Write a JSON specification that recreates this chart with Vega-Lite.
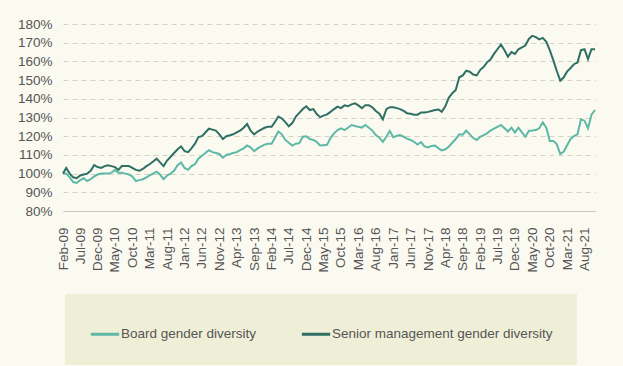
{
  "$schema": "https://vega.github.io/schema/vega-lite/v6.json",
  "width": 532,
  "height": 187,
  "autosize": {"type": "none"},
  "padding": {"left": 63, "top": 24, "right": 28, "bottom": 155},
  "background": "#FBFAF1",
  "config": {
    "view": {"stroke": null},
    "font": "Liberation Sans",
    "axis": {"labelFont": "Liberation Sans", "labelFontSize": 13.5, "labelColor": "#555555", "title": null},
    "legend": {"labelFont": "Liberation Sans"}
  },
  "data": {
    "values": [
      {"date":"2009-02-01","Board gender diversity":100,"Senior management gender diversity":100},
      {"date":"2009-03-01","Board gender diversity":100,"Senior management gender diversity":103},
      {"date":"2009-04-01","Board gender diversity":98,"Senior management gender diversity":100},
      {"date":"2009-05-01","Board gender diversity":95.5,"Senior management gender diversity":98},
      {"date":"2009-06-01","Board gender diversity":95,"Senior management gender diversity":97.5},
      {"date":"2009-07-01","Board gender diversity":96.5,"Senior management gender diversity":99},
      {"date":"2009-08-01","Board gender diversity":97.5,"Senior management gender diversity":99.5},
      {"date":"2009-09-01","Board gender diversity":96,"Senior management gender diversity":100},
      {"date":"2009-10-01","Board gender diversity":97,"Senior management gender diversity":101.5},
      {"date":"2009-11-01","Board gender diversity":98.5,"Senior management gender diversity":104.5},
      {"date":"2009-12-01","Board gender diversity":99.5,"Senior management gender diversity":103.5},
      {"date":"2010-01-01","Board gender diversity":100,"Senior management gender diversity":103},
      {"date":"2010-02-01","Board gender diversity":100,"Senior management gender diversity":104},
      {"date":"2010-03-01","Board gender diversity":100,"Senior management gender diversity":104.5},
      {"date":"2010-04-01","Board gender diversity":100.5,"Senior management gender diversity":104},
      {"date":"2010-05-01","Board gender diversity":102,"Senior management gender diversity":103.5},
      {"date":"2010-06-01","Board gender diversity":100.5,"Senior management gender diversity":102},
      {"date":"2010-07-01","Board gender diversity":100.5,"Senior management gender diversity":104},
      {"date":"2010-08-01","Board gender diversity":100,"Senior management gender diversity":104},
      {"date":"2010-09-01","Board gender diversity":99.5,"Senior management gender diversity":104},
      {"date":"2010-10-01","Board gender diversity":98.5,"Senior management gender diversity":103},
      {"date":"2010-11-01","Board gender diversity":96,"Senior management gender diversity":102},
      {"date":"2010-12-01","Board gender diversity":96.5,"Senior management gender diversity":101.5},
      {"date":"2011-01-01","Board gender diversity":97,"Senior management gender diversity":102.5},
      {"date":"2011-02-01","Board gender diversity":98,"Senior management gender diversity":104},
      {"date":"2011-03-01","Board gender diversity":99,"Senior management gender diversity":105},
      {"date":"2011-04-01","Board gender diversity":100,"Senior management gender diversity":106.5},
      {"date":"2011-05-01","Board gender diversity":101,"Senior management gender diversity":108},
      {"date":"2011-06-01","Board gender diversity":99.5,"Senior management gender diversity":106},
      {"date":"2011-07-01","Board gender diversity":97,"Senior management gender diversity":104},
      {"date":"2011-08-01","Board gender diversity":99,"Senior management gender diversity":107},
      {"date":"2011-09-01","Board gender diversity":100,"Senior management gender diversity":109},
      {"date":"2011-10-01","Board gender diversity":101.5,"Senior management gender diversity":111},
      {"date":"2011-11-01","Board gender diversity":104.5,"Senior management gender diversity":113},
      {"date":"2011-12-01","Board gender diversity":106,"Senior management gender diversity":114.5},
      {"date":"2012-01-01","Board gender diversity":103,"Senior management gender diversity":112},
      {"date":"2012-02-01","Board gender diversity":102,"Senior management gender diversity":111.5},
      {"date":"2012-03-01","Board gender diversity":104,"Senior management gender diversity":113.5},
      {"date":"2012-04-01","Board gender diversity":105,"Senior management gender diversity":116},
      {"date":"2012-05-01","Board gender diversity":108,"Senior management gender diversity":119.5},
      {"date":"2012-06-01","Board gender diversity":109.5,"Senior management gender diversity":120},
      {"date":"2012-07-01","Board gender diversity":111,"Senior management gender diversity":122},
      {"date":"2012-08-01","Board gender diversity":112.5,"Senior management gender diversity":124},
      {"date":"2012-09-01","Board gender diversity":111.5,"Senior management gender diversity":123.5},
      {"date":"2012-10-01","Board gender diversity":111,"Senior management gender diversity":123},
      {"date":"2012-11-01","Board gender diversity":110.5,"Senior management gender diversity":121},
      {"date":"2012-12-01","Board gender diversity":108.5,"Senior management gender diversity":118.5},
      {"date":"2013-01-01","Board gender diversity":110,"Senior management gender diversity":120},
      {"date":"2013-02-01","Board gender diversity":110.5,"Senior management gender diversity":120.5},
      {"date":"2013-03-01","Board gender diversity":111,"Senior management gender diversity":121},
      {"date":"2013-04-01","Board gender diversity":111.5,"Senior management gender diversity":122},
      {"date":"2013-05-01","Board gender diversity":112.5,"Senior management gender diversity":123},
      {"date":"2013-06-01","Board gender diversity":113.5,"Senior management gender diversity":124.5},
      {"date":"2013-07-01","Board gender diversity":115,"Senior management gender diversity":126.5},
      {"date":"2013-08-01","Board gender diversity":114,"Senior management gender diversity":123},
      {"date":"2013-09-01","Board gender diversity":112,"Senior management gender diversity":121},
      {"date":"2013-10-01","Board gender diversity":113.5,"Senior management gender diversity":122.5},
      {"date":"2013-11-01","Board gender diversity":114.5,"Senior management gender diversity":123.5},
      {"date":"2013-12-01","Board gender diversity":115.5,"Senior management gender diversity":124.5},
      {"date":"2014-01-01","Board gender diversity":116,"Senior management gender diversity":125},
      {"date":"2014-02-01","Board gender diversity":116,"Senior management gender diversity":125},
      {"date":"2014-03-01","Board gender diversity":119,"Senior management gender diversity":127.5},
      {"date":"2014-04-01","Board gender diversity":122.5,"Senior management gender diversity":130.5},
      {"date":"2014-05-01","Board gender diversity":121,"Senior management gender diversity":129.5},
      {"date":"2014-06-01","Board gender diversity":118,"Senior management gender diversity":127.5},
      {"date":"2014-07-01","Board gender diversity":116.5,"Senior management gender diversity":125.3},
      {"date":"2014-08-01","Board gender diversity":115,"Senior management gender diversity":127},
      {"date":"2014-09-01","Board gender diversity":116,"Senior management gender diversity":130.5},
      {"date":"2014-10-01","Board gender diversity":116.3,"Senior management gender diversity":132.5},
      {"date":"2014-11-01","Board gender diversity":119.7,"Senior management gender diversity":134.5},
      {"date":"2014-12-01","Board gender diversity":120,"Senior management gender diversity":136},
      {"date":"2015-01-01","Board gender diversity":118.5,"Senior management gender diversity":134},
      {"date":"2015-02-01","Board gender diversity":118,"Senior management gender diversity":134.5},
      {"date":"2015-03-01","Board gender diversity":117,"Senior management gender diversity":132},
      {"date":"2015-04-01","Board gender diversity":115,"Senior management gender diversity":130.2},
      {"date":"2015-05-01","Board gender diversity":115.2,"Senior management gender diversity":131},
      {"date":"2015-06-01","Board gender diversity":115.4,"Senior management gender diversity":131.7},
      {"date":"2015-07-01","Board gender diversity":119,"Senior management gender diversity":133},
      {"date":"2015-08-01","Board gender diversity":121.5,"Senior management gender diversity":134.5},
      {"date":"2015-09-01","Board gender diversity":123.3,"Senior management gender diversity":135.8},
      {"date":"2015-10-01","Board gender diversity":124.2,"Senior management gender diversity":135},
      {"date":"2015-11-01","Board gender diversity":123.3,"Senior management gender diversity":136.5},
      {"date":"2015-12-01","Board gender diversity":124.5,"Senior management gender diversity":136},
      {"date":"2016-01-01","Board gender diversity":126,"Senior management gender diversity":137},
      {"date":"2016-02-01","Board gender diversity":125.5,"Senior management gender diversity":137.6},
      {"date":"2016-03-01","Board gender diversity":125,"Senior management gender diversity":136.5},
      {"date":"2016-04-01","Board gender diversity":124.6,"Senior management gender diversity":135},
      {"date":"2016-05-01","Board gender diversity":126,"Senior management gender diversity":136.5},
      {"date":"2016-06-01","Board gender diversity":124.5,"Senior management gender diversity":136.5},
      {"date":"2016-07-01","Board gender diversity":123,"Senior management gender diversity":135.5},
      {"date":"2016-08-01","Board gender diversity":120.6,"Senior management gender diversity":133.5},
      {"date":"2016-09-01","Board gender diversity":119.2,"Senior management gender diversity":132},
      {"date":"2016-10-01","Board gender diversity":117,"Senior management gender diversity":129},
      {"date":"2016-11-01","Board gender diversity":119.7,"Senior management gender diversity":134.5},
      {"date":"2016-12-01","Board gender diversity":122.8,"Senior management gender diversity":135.5},
      {"date":"2017-01-01","Board gender diversity":119.4,"Senior management gender diversity":135.5},
      {"date":"2017-02-01","Board gender diversity":120.2,"Senior management gender diversity":135},
      {"date":"2017-03-01","Board gender diversity":120.6,"Senior management gender diversity":134.5},
      {"date":"2017-04-01","Board gender diversity":119.7,"Senior management gender diversity":133.5},
      {"date":"2017-05-01","Board gender diversity":118.7,"Senior management gender diversity":132.3},
      {"date":"2017-06-01","Board gender diversity":118,"Senior management gender diversity":132},
      {"date":"2017-07-01","Board gender diversity":117,"Senior management gender diversity":131.5},
      {"date":"2017-08-01","Board gender diversity":115.5,"Senior management gender diversity":131.5},
      {"date":"2017-09-01","Board gender diversity":116.8,"Senior management gender diversity":132.7},
      {"date":"2017-10-01","Board gender diversity":114.5,"Senior management gender diversity":132.7},
      {"date":"2017-11-01","Board gender diversity":114,"Senior management gender diversity":133},
      {"date":"2017-12-01","Board gender diversity":114.8,"Senior management gender diversity":133.5},
      {"date":"2018-01-01","Board gender diversity":115,"Senior management gender diversity":134},
      {"date":"2018-02-01","Board gender diversity":113.5,"Senior management gender diversity":134.3},
      {"date":"2018-03-01","Board gender diversity":112.4,"Senior management gender diversity":133},
      {"date":"2018-04-01","Board gender diversity":113,"Senior management gender diversity":136},
      {"date":"2018-05-01","Board gender diversity":114.4,"Senior management gender diversity":140.5},
      {"date":"2018-06-01","Board gender diversity":116.5,"Senior management gender diversity":143},
      {"date":"2018-07-01","Board gender diversity":118.5,"Senior management gender diversity":144.7},
      {"date":"2018-08-01","Board gender diversity":121,"Senior management gender diversity":151.5},
      {"date":"2018-09-01","Board gender diversity":120.8,"Senior management gender diversity":152.5},
      {"date":"2018-10-01","Board gender diversity":123,"Senior management gender diversity":155},
      {"date":"2018-11-01","Board gender diversity":121,"Senior management gender diversity":154.5},
      {"date":"2018-12-01","Board gender diversity":119,"Senior management gender diversity":153},
      {"date":"2019-01-01","Board gender diversity":118,"Senior management gender diversity":152.5},
      {"date":"2019-02-01","Board gender diversity":119.7,"Senior management gender diversity":155.5},
      {"date":"2019-03-01","Board gender diversity":120.5,"Senior management gender diversity":157},
      {"date":"2019-04-01","Board gender diversity":121.5,"Senior management gender diversity":159.5},
      {"date":"2019-05-01","Board gender diversity":123,"Senior management gender diversity":161},
      {"date":"2019-06-01","Board gender diversity":124,"Senior management gender diversity":164},
      {"date":"2019-07-01","Board gender diversity":125,"Senior management gender diversity":166.5},
      {"date":"2019-08-01","Board gender diversity":126,"Senior management gender diversity":169},
      {"date":"2019-09-01","Board gender diversity":124.2,"Senior management gender diversity":166},
      {"date":"2019-10-01","Board gender diversity":122.5,"Senior management gender diversity":162.5},
      {"date":"2019-11-01","Board gender diversity":124.6,"Senior management gender diversity":165},
      {"date":"2019-12-01","Board gender diversity":122,"Senior management gender diversity":164},
      {"date":"2020-01-01","Board gender diversity":124.6,"Senior management gender diversity":166.5},
      {"date":"2020-02-01","Board gender diversity":122,"Senior management gender diversity":167.5},
      {"date":"2020-03-01","Board gender diversity":119.7,"Senior management gender diversity":168.5},
      {"date":"2020-04-01","Board gender diversity":122.8,"Senior management gender diversity":172},
      {"date":"2020-05-01","Board gender diversity":123,"Senior management gender diversity":173.7},
      {"date":"2020-06-01","Board gender diversity":123.3,"Senior management gender diversity":173},
      {"date":"2020-07-01","Board gender diversity":124.2,"Senior management gender diversity":171.8},
      {"date":"2020-08-01","Board gender diversity":127.4,"Senior management gender diversity":172.6},
      {"date":"2020-09-01","Board gender diversity":124.5,"Senior management gender diversity":170.5},
      {"date":"2020-10-01","Board gender diversity":117.5,"Senior management gender diversity":166},
      {"date":"2020-11-01","Board gender diversity":117.5,"Senior management gender diversity":160.7},
      {"date":"2020-12-01","Board gender diversity":115.8,"Senior management gender diversity":155},
      {"date":"2021-01-01","Board gender diversity":110.5,"Senior management gender diversity":149.7},
      {"date":"2021-02-01","Board gender diversity":111.8,"Senior management gender diversity":151.5},
      {"date":"2021-03-01","Board gender diversity":115,"Senior management gender diversity":154.5},
      {"date":"2021-04-01","Board gender diversity":118.5,"Senior management gender diversity":156.5},
      {"date":"2021-05-01","Board gender diversity":120,"Senior management gender diversity":158.5},
      {"date":"2021-06-01","Board gender diversity":121,"Senior management gender diversity":159.4},
      {"date":"2021-07-01","Board gender diversity":129,"Senior management gender diversity":166},
      {"date":"2021-08-01","Board gender diversity":128.3,"Senior management gender diversity":166.5},
      {"date":"2021-09-01","Board gender diversity":124.2,"Senior management gender diversity":161.3},
      {"date":"2021-10-01","Board gender diversity":131.5,"Senior management gender diversity":166.5},
      {"date":"2021-11-01","Board gender diversity":134,"Senior management gender diversity":166.5}
    ]
  },
  "transform": [
    {"fold": ["Board gender diversity", "Senior management gender diversity"], "as": ["series", "value"]}
  ],
  "mark": {"type": "line", "strokeWidth": 2, "interpolate": "linear"},
  "encoding": {
    "x": {
      "field": "date",
      "type": "temporal",
      "scale": {
        "type": "utc",
        "nice": false,
        "domain": [{"year": 2009, "month": 2, "date": 1, "utc": true}, {"year": 2021, "month": 11, "date": 1, "utc": true}]
      },
      "axis": {
        "format": "%b-%y",
        "labelAngle": 270,
        "labelPadding": 16,
        "ticks": false,
        "tickSize": 0,
        "grid": false,
        "domain": true,
        "domainColor": "#C9C8C2",
        "domainWidth": 1,
        "labelOverlap": false,
        "labelFlush": false,
        "values": [
          {"year": 2009, "month": 2, "date": 1, "utc": true},
          {"year": 2009, "month": 7, "date": 1, "utc": true},
          {"year": 2009, "month": 12, "date": 1, "utc": true},
          {"year": 2010, "month": 5, "date": 1, "utc": true},
          {"year": 2010, "month": 10, "date": 1, "utc": true},
          {"year": 2011, "month": 3, "date": 1, "utc": true},
          {"year": 2011, "month": 8, "date": 1, "utc": true},
          {"year": 2012, "month": 1, "date": 1, "utc": true},
          {"year": 2012, "month": 6, "date": 1, "utc": true},
          {"year": 2012, "month": 11, "date": 1, "utc": true},
          {"year": 2013, "month": 4, "date": 1, "utc": true},
          {"year": 2013, "month": 9, "date": 1, "utc": true},
          {"year": 2014, "month": 2, "date": 1, "utc": true},
          {"year": 2014, "month": 7, "date": 1, "utc": true},
          {"year": 2014, "month": 12, "date": 1, "utc": true},
          {"year": 2015, "month": 5, "date": 1, "utc": true},
          {"year": 2015, "month": 10, "date": 1, "utc": true},
          {"year": 2016, "month": 3, "date": 1, "utc": true},
          {"year": 2016, "month": 8, "date": 1, "utc": true},
          {"year": 2017, "month": 1, "date": 1, "utc": true},
          {"year": 2017, "month": 6, "date": 1, "utc": true},
          {"year": 2017, "month": 11, "date": 1, "utc": true},
          {"year": 2018, "month": 4, "date": 1, "utc": true},
          {"year": 2018, "month": 9, "date": 1, "utc": true},
          {"year": 2019, "month": 2, "date": 1, "utc": true},
          {"year": 2019, "month": 7, "date": 1, "utc": true},
          {"year": 2019, "month": 12, "date": 1, "utc": true},
          {"year": 2020, "month": 5, "date": 1, "utc": true},
          {"year": 2020, "month": 10, "date": 1, "utc": true},
          {"year": 2021, "month": 3, "date": 1, "utc": true},
          {"year": 2021, "month": 8, "date": 1, "utc": true}
        ]
      }
    },
    "y": {
      "field": "value",
      "type": "quantitative",
      "scale": {"domain": [80, 180], "nice": false, "zero": false},
      "axis": {
        "values": [80, 90, 100, 110, 120, 130, 140, 150, 160, 170, 180],
        "labelExpr": "datum.value + '%'",
        "domain": false,
        "ticks": false,
        "tickSize": 0,
        "labelPadding": 11,
        "grid": true,
        "gridColor": "#D4D1C5",
        "gridDash": [5, 4],
        "gridWidth": 1
      }
    },
    "color": {
      "field": "series",
      "type": "nominal",
      "scale": {
        "domain": ["Board gender diversity", "Senior management gender diversity"],
        "range": ["#5DB8A6", "#2F6F64"]
      },
      "legend": {
        "title": null,
        "orient": "none",
        "direction": "horizontal",
        "legendX": 2,
        "legendY": 270,
        "fillColor": "#EFEFD7",
        "padding": 24,
        "symbolType": "stroke",
        "symbolSize": 800,
        "symbolStrokeWidth": 3,
        "labelOffset": 0,
        "columnPadding": 38,
        "labelFontSize": 13.5,
        "labelColor": "#555555",
        "labelLimit": 400
      }
    }
  }
}
